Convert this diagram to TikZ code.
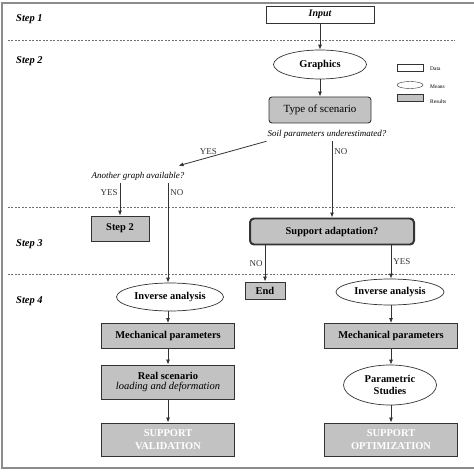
\documentclass[tikz,border=0pt]{standalone}
\usepackage{fontspec}
\setmainfont{Liberation Serif}
\usetikzlibrary{arrows.meta,positioning,shapes.geometric}
\definecolor{frgray}{HTML}{8C8C8C}
\definecolor{resgray}{HTML}{C2C2C2}
\definecolor{edgegray}{HTML}{333333}

\begin{document}
\begin{tikzpicture}[x=1bp,y=-1bp,>={Latex[length=5pt,width=4pt]}]
    \tikzset{
      databox/.style={draw=edgegray,fill=white,line width=0.7pt,minimum height=17bp,inner sep=1pt,align=center,font=\fontsize{10}{11}\selectfont\bfseries\itshape},
      meansell/.style={ellipse,draw=edgegray,fill=white,line width=0.7pt,inner sep=0pt,align=center,font=\fontsize{10.5}{12}\selectfont\bfseries},
      resbox/.style={draw=edgegray,fill=resgray,line width=0.9pt,inner sep=1pt,align=center,font=\fontsize{10.5}{12}\selectfont\bfseries},
      outbox/.style={resbox,minimum width=133bp,minimum height=33bp,text=white,font=\fontsize{10.5}{13}\selectfont\bfseries},
      steplbl/.style={anchor=west,inner sep=0pt,font=\fontsize{10.5}{11}\selectfont\bfseries\itshape},
      question/.style={inner sep=1pt,font=\fontsize{9}{10}\selectfont\itshape},
      answer/.style={inner sep=2pt,font=\fontsize{9}{10}\selectfont},
      flow/.style={->,line width=0.8pt,edgegray},
      sep/.style={frgray!80!black,line width=0.6pt,dash pattern=on 2pt off 1.5pt},
      legtxt/.style={anchor=west,inner sep=0pt,font=\fontsize{5.5}{6}\selectfont}
    }
    \useasboundingbox (0,0) rectangle (474,474);
    % frame
    \draw[frgray,line width=1.5pt] (474,3) -- (2,3) -- (2,468) -- (474,468);
    % step separators
    \draw[sep] (8,40) -- (455,40);
    \draw[sep] (8,207) -- (455,207);
    \draw[sep] (8,274) -- (455,274);
    \node[steplbl] (s1) at (16,19) {Step 1};
    \node[steplbl] (s2) at (16,61) {Step 2};
    \node[steplbl] (s3) at (16,244) {Step 3};
    \node[steplbl] (s4) at (16,301) {Step 4};

    % step 1 and 2
    \node[databox,minimum width=108bp] (input) at (320,14.5) {Input};
    \node[meansell,minimum width=93bp,minimum height=29bp] (graphics) at (320,64.5) {Graphics};
    \node[resbox,rounded corners=3pt,minimum width=102bp,minimum height=26bp,font=\fontsize{11}{12}\selectfont] (scenario) at (320,110) {Type of scenario};
    \node[question] (soil) at (327,134) {Soil parameters underestimated?};
    \node[question] (another) at (138,176) {Another graph available?};

    % legend
    \node[draw=edgegray,fill=white,minimum width=26bp,minimum height=7bp,inner sep=0pt] (legdata) at (410,67.5) {};
    \node[ellipse,draw=edgegray,fill=white,minimum width=26bp,minimum height=7bp,inner sep=0pt] (legmeans) at (410,85) {};
    \node[draw=edgegray,fill=resgray,line width=0.9pt,minimum width=26bp,minimum height=7bp,inner sep=0pt] (legres) at (410,98) {};
    \node[legtxt] at (430,68.5) {Data};
    \node[legtxt] at (430,86.5) {Means};
    \node[legtxt] at (430,101.5) {Results};

    % step 3
    \node[resbox,minimum width=58bp,minimum height=25bp] (step2) at (120,228.5) {Step 2};
    \node[resbox,rounded corners=4pt,line width=2pt,minimum width=164bp,minimum height=26bp] (adapt) at (332,231.5) {Support adaptation?};

    % step 4
    \node[resbox,minimum width=40bp,minimum height=17bp] (end) at (265,290.5) {End};
    \node[meansell,minimum width=107bp,minimum height=28bp] (invL) at (170,297) {Inverse analysis};
    \node[meansell,minimum width=108bp,minimum height=26bp] (invR) at (390,292) {Inverse analysis};
    \node[resbox,minimum width=133bp,minimum height=25bp] (mechL) at (168,336) {Mechanical parameters};
    \node[resbox,minimum width=133bp,minimum height=25bp] (mechR) at (391,336) {Mechanical parameters};
    \node[resbox,minimum width=133bp,minimum height=34bp] (real) at (168,382) {Real scenario\\[-1pt]{\mdseries\itshape loading and deformation}};
    \node[meansell,minimum width=93bp,minimum height=40bp] (param) at (390,385) {Parametric\\Studies};
    \node[outbox] (valid) at (168,439.5) {SUPPORT\\VALIDATION};
    \node[outbox] (optim) at (391,439.5) {SUPPORT\\OPTIMIZATION};

    % connectors
    \draw[flow] (input) -- (graphics);
    \draw[flow] (graphics) -- (scenario);
    \draw[flow] ([yshift=-2bp]soil.south west) -- node[answer,above,pos=0.66] {YES} ([shift={(-7,-5)}]another.north east);
    \draw[flow] ([yshift=-2bp]soil.south -| adapt.north) -- node[answer,right,pos=0.14] {NO} (adapt.north);
    \draw[flow] ([yshift=-2bp]another.south -| step2.north) -- node[answer,left,pos=0.3] {YES} (step2.north);
    \draw[flow] ([yshift=-2bp]another.south -| mechL.north) -- node[answer,right,pos=0.09] {NO} (invL.north -| mechL.north);
    \draw[flow] (adapt.south -| end.north) -- node[answer,left] {NO} (end.north);
    \draw[flow] (adapt.south -| mechR.north) -- node[answer,right] {YES} (invR.north -| mechR.north);
    \draw[flow] (invL.south -| mechL.north) -- (mechL.north);
    \draw[flow] (mechL) -- (real);
    \draw[flow] (real) -- (valid);
    \draw[flow] (invR.south -| mechR.north) -- (mechR.north);
    \draw[flow] (mechR.south) -- (param.north -| mechR.south);
    \draw[flow] (param.south -| optim.north) -- (optim.north);
\end{tikzpicture}
\end{document}
